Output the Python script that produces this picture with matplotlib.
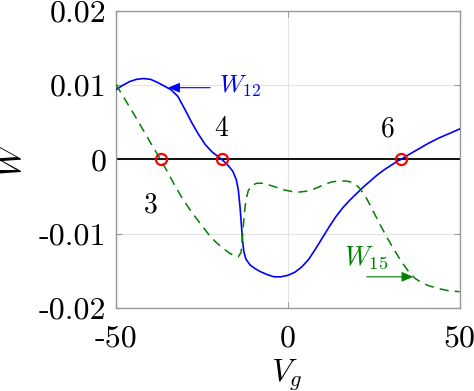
import numpy as np
import matplotlib
matplotlib.use("Agg")
import matplotlib.pyplot as plt

plt.rcParams['mathtext.fontset'] = 'cm'

# DATA
v12 = [-50, -48, -46, -44, -42, -40, -38, -36, -34, -32, -30, -28, -26, -24, -22, -20,
       -19.2, -18, -17, -16, -15, -14.4, -13.9, -13.5, -13.2, -12.8, -12.2, -11, -9.5,
       -8, -6, -4, -2, 0, 2, 4, 6, 8, 10, 12, 14, 16, 18, 20, 22, 24, 26, 28, 30, 32,
       32.9, 35, 38, 41, 44, 47, 50]
w12 = [0.0094, 0.0100, 0.0105, 0.0108, 0.0109, 0.0108, 0.0104, 0.0099, 0.0094, 0.0085,
       0.0068, 0.0050, 0.0034, 0.0020, 0.0010, 0.0003, 0.0, -0.0005, -0.0010, -0.0016,
       -0.0027, -0.0041, -0.0064, -0.0088, -0.0108, -0.0124, -0.0134, -0.0142, -0.0147,
       -0.0151, -0.0155, -0.0158, -0.0158, -0.0156, -0.0152, -0.0145, -0.0135, -0.0121,
       -0.0106, -0.0091, -0.0077, -0.0065, -0.0055, -0.0046, -0.0037, -0.0029, -0.0021,
       -0.0014, -0.0008, -0.0002, 0.0, 0.0006, 0.0014, 0.0022, 0.0029, 0.0035, 0.0041]

v15 = [-50, -47, -44, -41, -39, -37, -35, -33, -31, -29, -27, -25, -23, -21, -19, -17,
       -15.5, -14.4, -13.6, -13.1, -12.7, -12.2, -11.5, -10.5, -9, -7, -5, -3, -1, 1, 3,
       5, 7, 9, 11, 13, 15, 17, 19, 21, 23, 25, 27, 29, 31, 33, 35, 37, 39, 41, 44, 47, 50]
w15 = [0.0101, 0.0078, 0.0055, 0.0031, 0.0015, 0.0, -0.0017, -0.0034, -0.0050, -0.0064,
       -0.0077, -0.0089, -0.0101, -0.0111, -0.0119, -0.0126, -0.0130, -0.0131, -0.0125,
       -0.0100, -0.0075, -0.0055, -0.0042, -0.0035, -0.0032, -0.0032, -0.0035, -0.0038,
       -0.0041, -0.0043, -0.0044, -0.0043, -0.0041, -0.0037, -0.0033, -0.0030, -0.0029,
       -0.0029, -0.0031, -0.0039, -0.0053, -0.0071, -0.0089, -0.0106, -0.0122, -0.0137,
       -0.0150, -0.0160, -0.0166, -0.0170, -0.0174, -0.0177, -0.0178]

zeros_v = [-37, -19.2, 32.9]
zero_labels = ['3', '4', '6']
label_pos = [(-39.8, -0.0072), (-19.4, 0.0031), (29.0, 0.0031)]

xticks = [-50, 0, 50]
xticklabels = ['-50', '0', '50']
yticks = [-0.02, -0.01, 0, 0.01, 0.02]
yticklabels = ['-0.02', '-0.01', '0', '0.01', '0.02']

# FIGURE
fig = plt.figure(figsize=(4.74, 3.91), dpi=100)
ax = fig.add_axes([0.2447, 0.2123, 0.7249, 0.7596])

ax.axhline(0, color='k', lw=1.3, zorder=2)
ax.plot(v12, w12, color='#0000ff', lw=1.2, zorder=3)
ax.plot(v15, w15, color='#008000', lw=1.1, dashes=(6, 4), zorder=3)
ax.plot(zeros_v, [0] * len(zeros_v), 'o', mfc='none', mec='red', ms=8, mew=1.6, zorder=4)

for lab, (x, y) in zip(zero_labels, label_pos):
    ax.text(x, y, lab, fontfamily='cmr10', fontsize=20, ha='center', va='baseline')

# arrows and curve names
ax.annotate('', xy=(-34.8, 0.00967), xytext=(-22.6, 0.00967),
            arrowprops=dict(arrowstyle='-|>,head_length=0.7,head_width=0.3',
                            color='#0000ff', lw=0.8, shrinkA=0, shrinkB=0))
ax.text(-19.9, 0.0090, r'$W_{12}$', color='#0000ff', fontsize=18, va='baseline')
ax.annotate('', xy=(36.5, -0.0158), xytext=(23.0, -0.0158),
            arrowprops=dict(arrowstyle='-|>,head_length=0.7,head_width=0.3',
                            color='#008000', lw=0.8, shrinkA=0, shrinkB=0))
ax.text(16.4, -0.0142, r'$W_{15}$', color='#008000', fontsize=19, va='baseline')

ax.set_xlim(-50, 50)
ax.set_ylim(-0.02, 0.02)
ax.set_xticks(xticks)
ax.set_xticklabels(xticklabels, fontfamily='cmr10', fontsize=23)
ax.set_yticks(yticks)
ax.set_yticklabels(yticklabels, fontfamily='cmr10', fontsize=23)
ax.tick_params(direction='in', length=4, width=0.8, color='#999999',
               top=True, right=True, pad=7)
ax.tick_params(axis='x', pad=12)
ax.grid(True, color='#e3e3e3', lw=0.8, zorder=0)
for s in ax.spines.values():
    s.set_color('#999999')
    s.set_linewidth(1.0)

fig.text(12 / 474, 1 - 159 / 391, r'$W$', fontsize=24, rotation=90, ha='center', va='center')
fig.text(287 / 474, 0.024, r'$V_g$', fontsize=23, ha='center', va='baseline')

fig.savefig('out.png', dpi=100)
